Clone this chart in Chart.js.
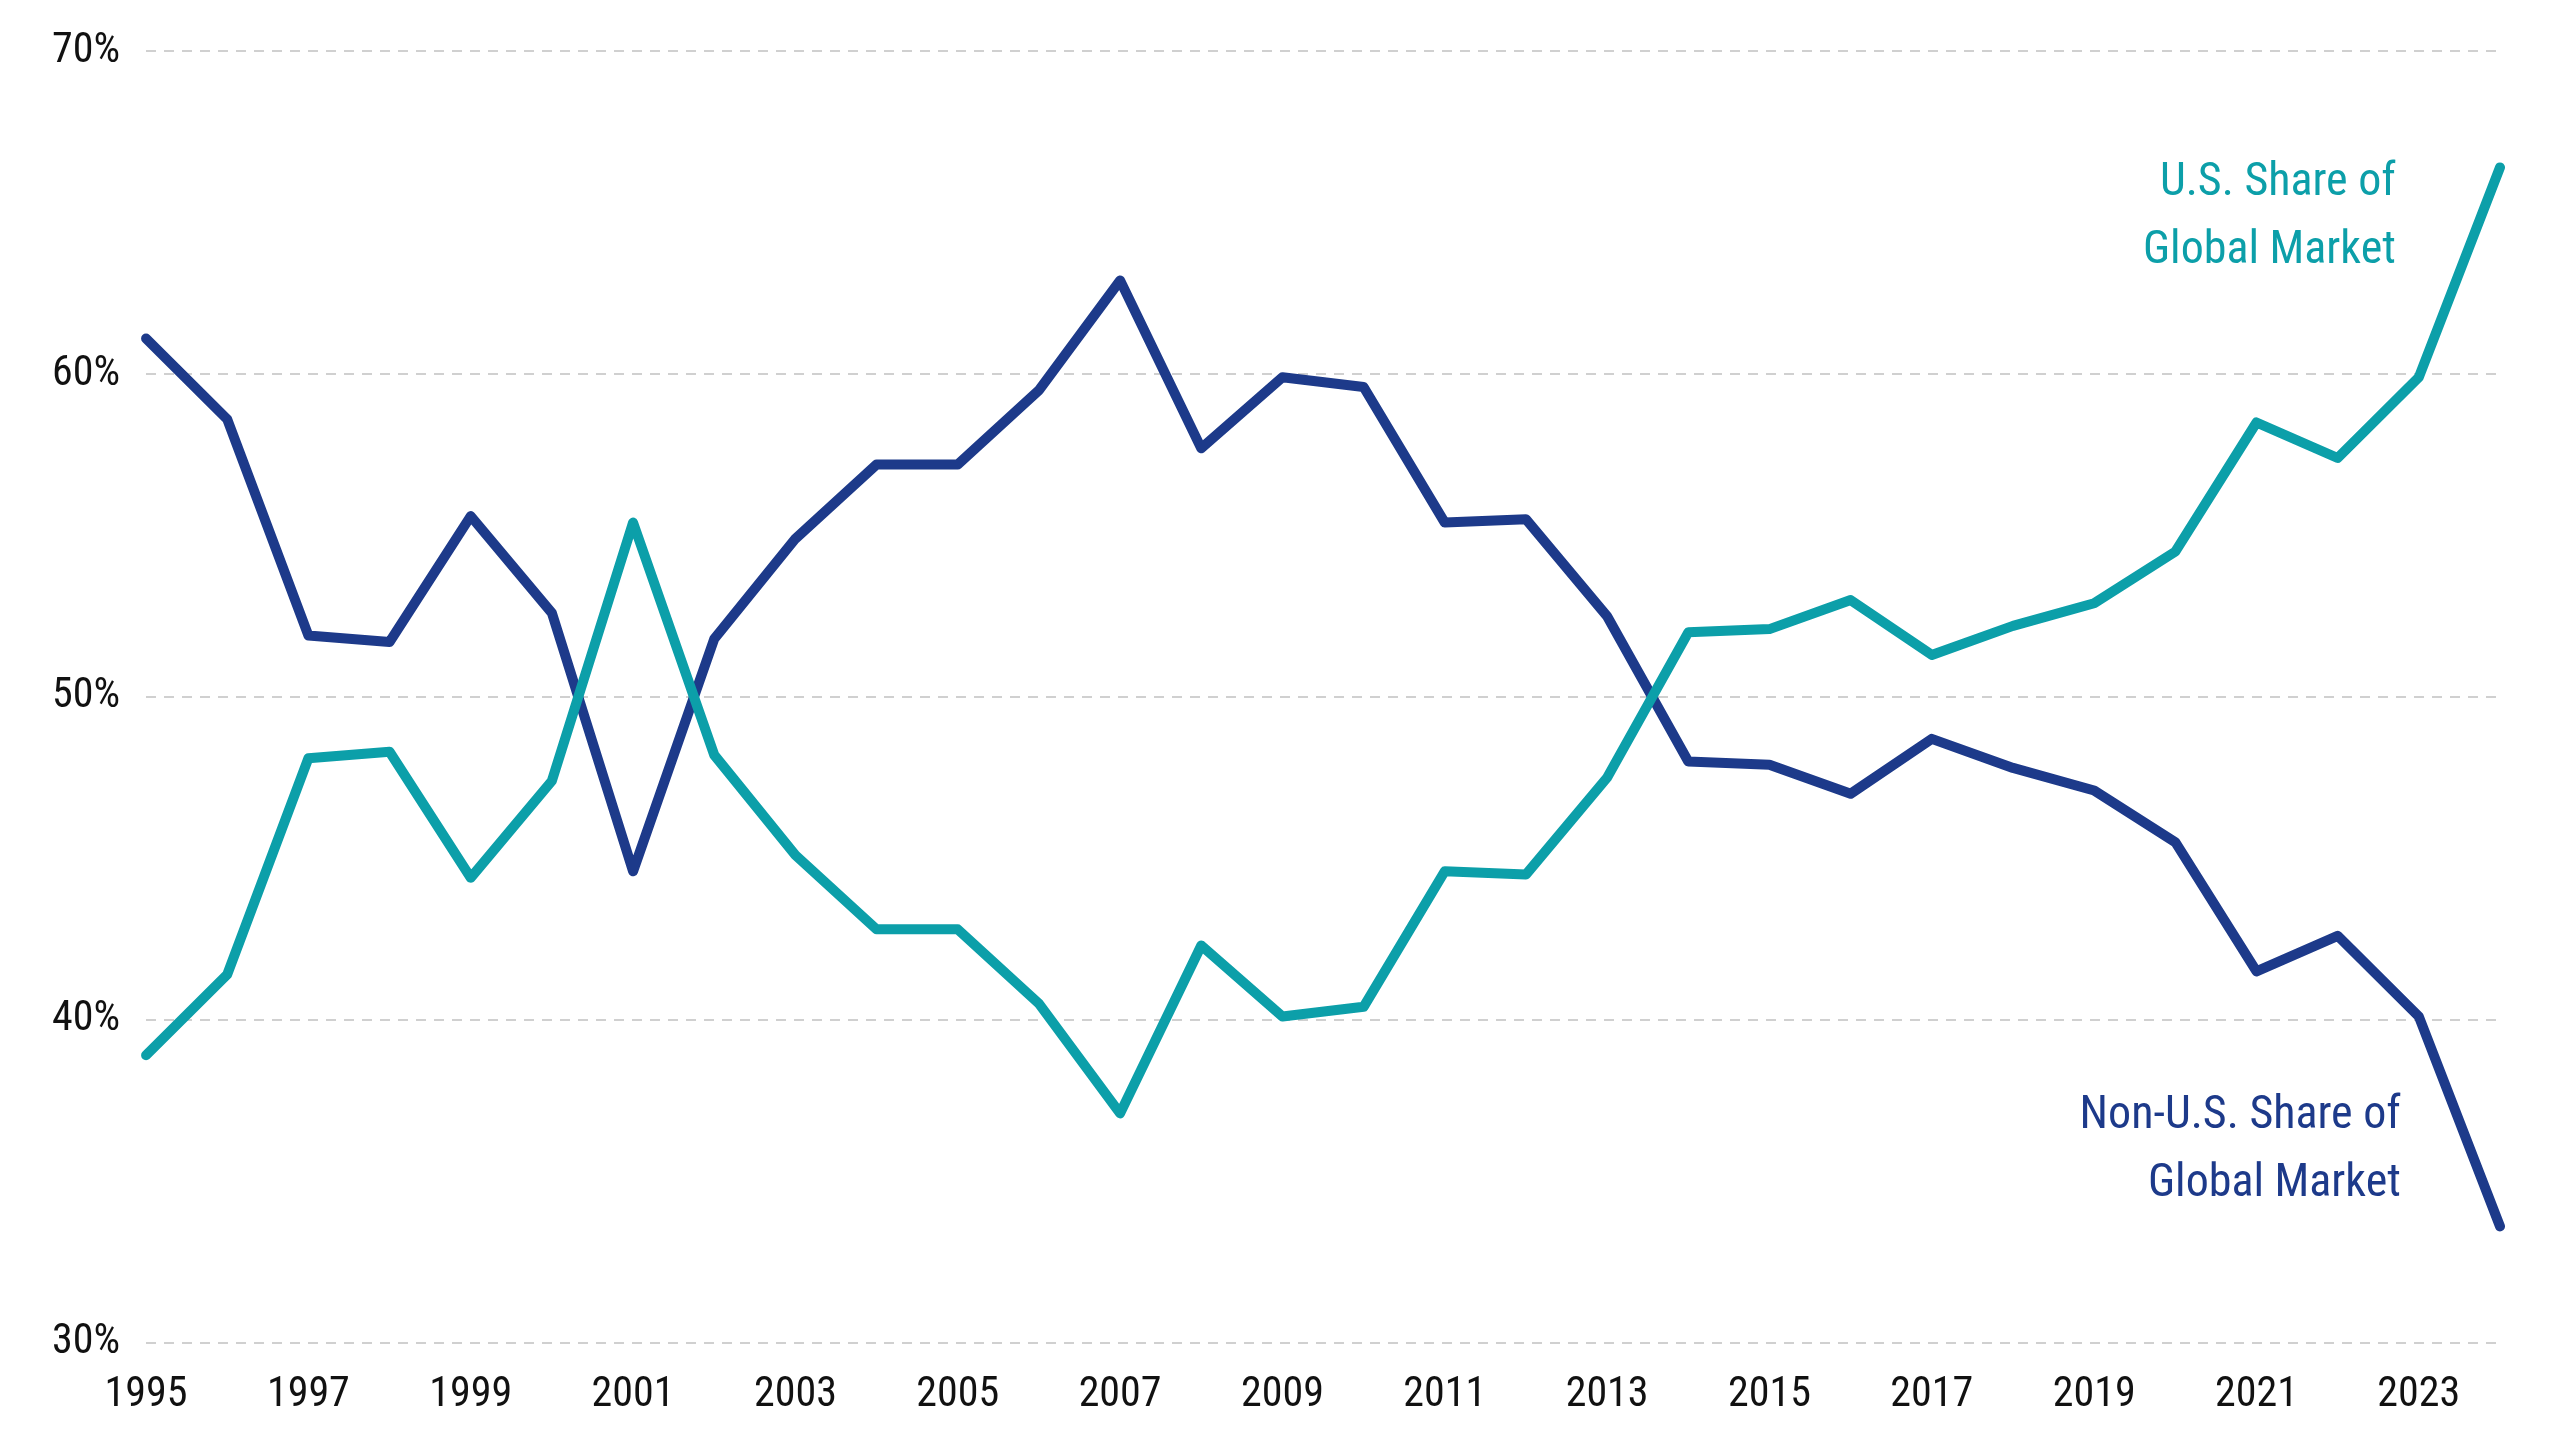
<!DOCTYPE html>
<html><head><meta charset="utf-8">
<script src="https://cdn.jsdelivr.net/npm/chart.js@4/dist/chart.umd.min.js"></script>
<style>html,body{margin:0;padding:0;background:#fff}#w{width:2560px;height:1445px}</style>
</head><body><div id="w"><canvas id="c"></canvas></div>
<script>
const years = [1995,1996,1997,1998,1999,2000,2001,2002,2003,2004,2005,2006,2007,2008,2009,2010,2011,2012,2013,2014,2015,2016,2017,2018,2019,2020,2021,2022,2023,2024];
const usShare = [38.9,41.4,48.1,48.3,44.4,47.4,55.4,48.2,45.1,42.8,42.8,40.5,37.1,42.3,40.1,40.4,44.6,44.5,47.5,52.0,52.1,53.0,51.3,52.2,52.9,54.5,58.5,57.4,59.9,66.4];
const nonUsShare = [61.1,58.6,51.9,51.7,55.6,52.6,44.6,51.8,54.9,57.2,57.2,59.5,62.9,57.7,59.9,59.6,55.4,55.5,52.5,48.0,47.9,47.0,48.7,47.8,47.1,45.5,41.5,42.6,40.1,33.6];
const yTicks = [30,40,50,60,70];
const TEAL = '#0c9fa9', NAVY = '#1d3a8a';
const FONT = "'Liberation Sans Narrow','Roboto Condensed',Roboto,sans-serif";
const labels = {
  id:'labels',
  afterDraw(ch){
    const c=ch.ctx, x=ch.scales.x, y=ch.scales.y;
    c.save(); c.font='46px '+FONT; c.textAlign='right'; c.textBaseline='middle';
    c.fillStyle=TEAL;
    const xr = x.getPixelForValue(28);
    c.fillText('U.S. Share of', xr-23, y.getPixelForValue(65.9));
    c.fillText('Global Market', xr-23, y.getPixelForValue(63.8));
    c.fillStyle=NAVY;
    c.fillText('Non-U.S. Share of', xr-18, y.getPixelForValue(37.0));
    c.fillText('Global Market', xr-18, y.getPixelForValue(34.9));
    c.restore();
  }
};
new Chart(document.getElementById('c'),{
  type:'line',
  data:{labels:years,datasets:[
    {data:usShare,borderColor:TEAL,borderWidth:10,pointRadius:0,tension:0,borderCapStyle:'round',borderJoinStyle:'round'},
    {data:nonUsShare,borderColor:NAVY,borderWidth:10,pointRadius:0,tension:0,borderCapStyle:'round',borderJoinStyle:'round'}
  ]},
  options:{responsive:true,maintainAspectRatio:false,animation:false,
    layout:{padding:{left:26,right:60,top:34,bottom:4}},
    plugins:{legend:{display:false},tooltip:{enabled:false}},
    scales:{
      x:{offset:false,grid:{display:false},border:{display:false},
        ticks:{autoSkip:false,maxRotation:0,color:'#111',font:{size:42,family:FONT},padding:20,
          callback:(v,i)=> i%2===0 ? years[i] : ''}},
      y:{min:30,max:70,afterBuildTicks:a=>{a.ticks=yTicks.map(v=>({value:v}));},
        grid:{color:'#d0d0d0',lineWidth:2,drawTicks:false},border:{display:false,dash:[10,8]},
        ticks:{color:'#111',font:{size:42,family:FONT},padding:26,callback:v=>v+'%'}}
    }},
  plugins:[labels]
});
</script></body></html>
